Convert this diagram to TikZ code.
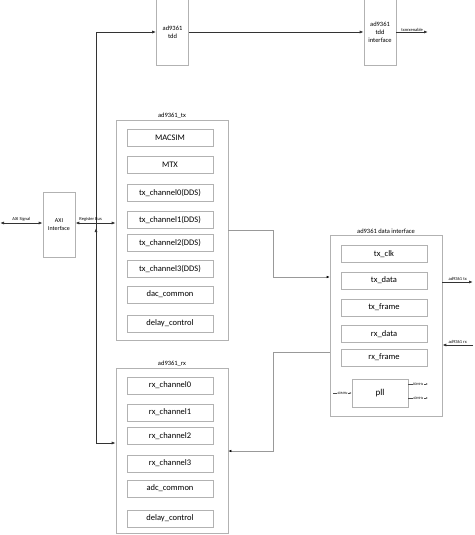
\documentclass[tikz,border=0pt]{standalone}
\usepackage{fontspec}
\setmainfont{Carlito}
\usetikzlibrary{arrows.meta,calc}
\tikzset{
  outerbox/.style={draw=black!30, line width=0.6pt, inner sep=0pt},
  innerbox/.style={draw=black!30, line width=0.6pt, minimum width=86pt, minimum height=17pt, inner sep=0pt, font=\fontsize{8.5}{9}\selectfont},
  tallbox/.style={draw=black!30, line width=0.6pt, minimum width=32pt, minimum height=66pt, inner sep=0pt, align=center, font=\fontsize{6.5}{8}\selectfont},
  busline/.style={draw=black!80, line width=0.9pt, -{Latex[length=4pt,width=3pt]}},
  busdbl/.style={draw=black!80, line width=0.9pt, {Latex[length=4pt,width=3pt]}-{Latex[length=4pt,width=3pt]}},
  dataline/.style={draw=black!40, line width=0.6pt, -{Latex[length=3pt,width=2.5pt,color=black]}},
  thinarrow/.style={draw=black!70, line width=0.4pt, -{Latex[length=2pt,width=1.6pt]}},
  grouplabel/.style={font=\fontsize{6.5}{7}\selectfont, inner sep=1pt},
  tinylabel/.style={font=\fontsize{4.5}{5}\selectfont, inner sep=0.5pt},
  mhzlabel/.style={font=\fontsize{3.5}{4}\selectfont, inner sep=0.3pt, fill=white},
}
\begin{document}
\begin{tikzpicture}[x=1pt,y=-1pt]
\useasboundingbox (0,0) rectangle (474,535);
\fill[white] (0,0) rectangle (474,535);

% top boxes
\node[tallbox] (tdd) at (172.5,32) {ad9361\\tdd};
\node[tallbox] (tddif) at (380,32) {ad9361\\tdd\\interface};

% AXI interface
\node[tallbox, minimum height=65pt, font=\fontsize{6}{7.5}\selectfont] (axi) at (59,224.5) {AXI\\Interface};

% tx group
\node[outerbox, minimum width=112pt, minimum height=220pt] (tx) at (172,230) {};
\node[grouplabel, anchor=south] (txl) at (tx.north) {ad9361\_tx};
\node[innerbox] (macsim) at (170,138) {MACSIM};
\node[innerbox] (mtx) at (170,164.5) {MTX};
\node[innerbox] (tx0) at (170,192.5) {tx\_channel0(DDS)};
\node[innerbox] (tx1) at (170,219.5) {tx\_channel1(DDS)};
\node[innerbox] (tx2) at (170,242.5) {tx\_channel2(DDS)};
\node[innerbox] (tx3) at (170,268.5) {tx\_channel3(DDS)};
\node[innerbox] (dac) at (170,294.5) {dac\_common};
\node[innerbox] (txdly) at (170,323.5) {delay\_control};

% rx group
\node[outerbox, minimum width=112pt, minimum height=165pt] (rx) at (172,450.5) {};
\node[grouplabel, anchor=south] (rxl) at (rx.north) {ad9361\_rx};
\node[innerbox] (rx0) at (170,385.5) {rx\_channel0};
\node[innerbox] (rx1) at (170,412.5) {rx\_channel1};
\node[innerbox] (rx2) at (170,436) {rx\_channel2};
\node[innerbox] (rx3) at (170,463.5) {rx\_channel3};
\node[innerbox] (adc) at (170,488.5) {adc\_common};
\node[innerbox] (rxdly) at (170,518.5) {delay\_control};

% data interface
\node[outerbox, minimum width=112pt, minimum height=181pt] (di) at (386,325.5) {};
\node[grouplabel, anchor=south] (dil) at (di.north) {ad9361 data interface};
\node[innerbox] (txclk) at (384,254) {tx\_clk};
\node[innerbox] (txdata) at (384,280.5) {tx\_data};
\node[innerbox] (txframe) at (384,307.5) {tx\_frame};
\node[innerbox] (rxdata) at (384,334) {rx\_data};
\node[innerbox] (rxframe) at (384,357.5) {rx\_frame};
\node[innerbox, minimum width=56pt, minimum height=28pt, font=\fontsize{9}{10}\selectfont] (pll) at (380,393) {pll};

% coordinates for free ends
\coordinate (axisig) at (0,223);
\coordinate (bj) at (96,223);
\coordinate (bb) at (96,443);
\coordinate (tddout) at (428,32);
\coordinate (txout) at (473,282);
\coordinate (rxin) at (473,345);
\coordinate (pllin) at (333,393);
\coordinate (pllout1) at (428,384);
\coordinate (pllout2) at (428,398);

% bus connectors
\draw[busline] (bj) |- (tdd.west);
\draw[busline] (bb) -- ($(bj)+(0,5)$);
\draw[busline] (bj) -- (bb) -- (bb -| rx.west);
\draw[busdbl] (axi.east |- bj) -- node[tinylabel, above=1pt, pos=0.38] {Register Bus} (bj -| tx.west);
\draw[busdbl] (axisig) -- node[tinylabel, above=1pt] {AXI Signal} (axi.west |- axisig);
\draw[busline] (tdd.east) -- (tddif.west);
\draw[busline] (tddif.east) -- node[tinylabel, above=0pt] {txnrxenable} (tddout);

% data connectors
\draw[dataline] (tx.east) -| (273,277) -- (di.west |- {(0,277)});
\draw[dataline] (di.west |- {(0,352)}) -| (273,451) -- (rx.east |- {(0,451)});

% external tx/rx
\draw[busline] (di.east |- txout) -- node[tinylabel, above=1pt] {ad9361 tx} (txout);
\draw[busline] (rxin) -- node[tinylabel, above=1pt] {ad9361 rx} (di.east |- rxin);

% pll clocks
\draw[thinarrow] (pllin) -- node[mhzlabel] {40MHz} (pll.west);
\draw[thinarrow] (pll.east |- pllout1) -- node[mhzlabel] {80MHz} (pllout1);
\draw[thinarrow] (pll.east |- pllout2) -- node[mhzlabel] {40MHz} (pllout2);
\end{tikzpicture}
\end{document}
